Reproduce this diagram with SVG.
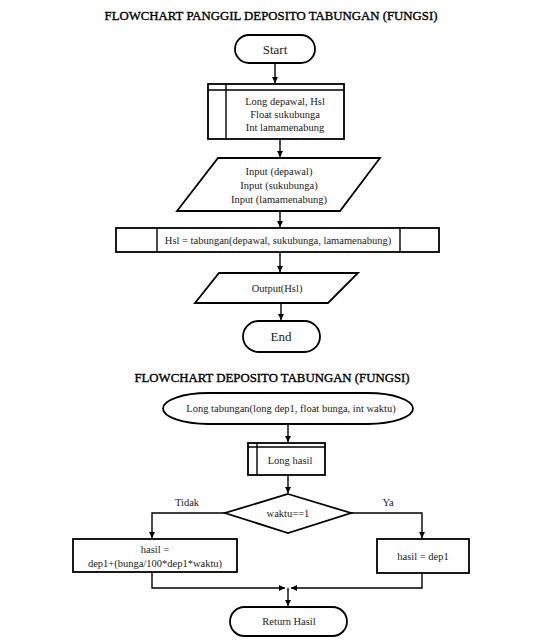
<svg xmlns="http://www.w3.org/2000/svg" width="540" height="640" viewBox="0 0 540 640">
<defs>
<marker id="ah" markerWidth="8" markerHeight="8" refX="6" refY="3" orient="auto" markerUnits="userSpaceOnUse">
<path d="M0,0 L6,3 L0,6 Z" fill="#000"/>
</marker>
<style>
.s{fill:#fff;stroke:#000;stroke-width:1.8}
.l{fill:none;stroke:#000;stroke-width:1.4}
.c{fill:none;stroke:#000;stroke-width:1.4;marker-end:url(#ah)}
text{font-family:"Liberation Serif","DejaVu Serif",serif;fill:#1a1a1a;text-anchor:middle}
.t{font-size:10.5px}
.h{font-size:12.8px;fill:#000;stroke:#000;stroke-width:0.35}
.b{font-size:13px}
</style>
</defs>
<rect width="540" height="640" fill="#fff"/>
<text class="h" x="271" y="20">FLOWCHART PANGGIL DEPOSITO TABUNGAN (FUNGSI)</text>
<text class="h" x="272" y="382">FLOWCHART DEPOSITO TABUNGAN (FUNGSI)</text>

<g id="connectors">
<path class="c" d="M275,63 V83"/>
<path class="c" d="M280,139 V157"/>
<path class="c" d="M280,211 V227"/>
<path class="c" d="M280,252 V272"/>
<path class="c" d="M281,303 V320"/>
<path class="c" d="M288,424 V442"/>
<path class="c" d="M288,475 V493"/>
<path class="c" d="M225,513 H152 V538"/>
<path class="c" d="M351,513 H422 V538"/>
<path class="c" d="M152,572 V588 H285"/>
<path class="c" d="M422,573 V588 H291"/>
<path class="c" d="M288,588 V606"/>
</g>
<text class="t" x="187" y="506">Tidak</text>
<text class="t" x="388" y="506">Ya</text>

<g id="start">
<rect class="s" x="235" y="35" width="80" height="28" rx="14"/>
<text class="b" x="275" y="54">Start</text>
</g>
<g id="decl1">
<rect class="s" x="208" y="84" width="136" height="55"/>
<path class="l" d="M226,84 V139 M208,90 H344"/>
<text class="t" x="285" y="105">Long depawal, Hsl</text>
<text class="t" x="285" y="118">Float sukubunga</text>
<text class="t" x="285" y="131">Int lamamenabung</text>
</g>
<g id="input">
<path class="s" d="M218,158 H380 L340,211 H177 Z"/>
<text class="t" x="279" y="175">Input (depawal)</text>
<text class="t" x="279" y="189">Input (sukubunga)</text>
<text class="t" x="279" y="203">Input (lamamenabung)</text>
</g>
<g id="call">
<rect class="s" x="116" y="228" width="323" height="24"/>
<path class="l" d="M157,228 V252 M400,228 V252"/>
<text class="t" x="278" y="244">Hsl = tabungan(depawal, sukubunga, lamamenabung)</text>
</g>
<g id="output">
<path class="s" d="M219,273 H358 L328,303 H195 Z"/>
<text class="t" x="277" y="292">Output(Hsl)</text>
</g>
<g id="end">
<rect class="s" x="243" y="321" width="77" height="31" rx="15.5"/>
<text class="b" x="281" y="341">End</text>
</g>

<g id="func">
<rect class="s" x="163" y="393" width="250" height="31" rx="45" ry="15.5"/>
<text class="t" x="291" y="412">Long tabungan(long dep1, float bunga, int waktu)</text>
</g>
<g id="decl2">
<rect class="s" x="248" y="443" width="77" height="32"/>
<path class="l" d="M257,443 V475 M248,447 H325"/>
<text class="t" x="290" y="464">Long hasil</text>
</g>
<g id="cond">
<path class="s" d="M288,494 L351,513 L288,533 L225,513 Z"/>
<text class="t" x="288" y="517">waktu==1</text>
</g>
<g id="calc">
<rect class="s" x="73" y="539" width="164" height="33"/>
<text class="t" x="155" y="553">hasil =</text>
<text class="t" x="155" y="567">dep1+(bunga/100*dep1*waktu)</text>
</g>
<g id="assign">
<rect class="s" x="377" y="539" width="92" height="34"/>
<text class="t" x="423" y="560">hasil = dep1</text>
</g>
<g id="ret">
<rect class="s" x="230" y="607" width="117" height="29" rx="14.5"/>
<text class="t" x="289" y="625">Return Hasil</text>
</g>
</svg>
